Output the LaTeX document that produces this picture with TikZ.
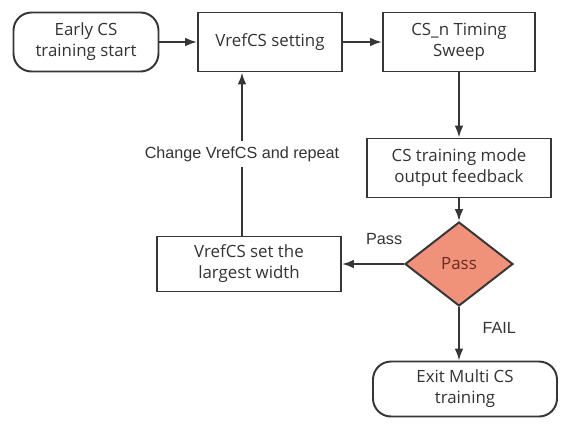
\documentclass[tikz,border=0pt]{standalone}
\usepackage{fontspec}
\setmainfont{Open Sans}
\newfontfamily\labelfont{Liberation Sans}
\usepackage{tikz}
\usetikzlibrary{arrows.meta}
\usetikzlibrary{positioning}
\usetikzlibrary{shapes.geometric}
\definecolor{linegray}{HTML}{363636}
\definecolor{textgray}{HTML}{333333}
\definecolor{salmon}{HTML}{F0917A}
\definecolor{passred}{HTML}{6B2A20}
\tikzset{>={Latex[length=3mm, width=2.2mm]}}
\tikzset{
    flowbox/.style={draw=linegray, line width=1.4pt, align=center, text=textgray,
        font=\fontsize{12}{15}\selectfont, inner sep=0pt},
    endbox/.style={flowbox, rounded corners=0.45cm},
    decision/.style={diamond, draw=linegray, line width=1.4pt, fill=salmon, text=passred,
        font=\fontsize{12}{15}\selectfont, inner sep=0pt, aspect=1.29},
    flowlabel/.style={text=textgray, font=\labelfont\fontsize{11.5}{14}\selectfont},
}

\begin{document}
\begin{tikzpicture}[line width=1.4pt, color=linegray]
	\useasboundingbox (0,0) rectangle (14.125,-10.725);
	\node[endbox, minimum width=3.625cm, minimum height=1.475cm] (start) at (2.15,-1.05) {Early CS\\training start};
	\node[flowbox, minimum width=3.6cm, minimum height=1.475cm] (vref) at (6.75,-1.05) {VrefCS setting};
	\node[flowbox, minimum width=3.8cm, minimum height=1.475cm] (sweep) at (11.475,-1.05) {CS\_n Timing\\Sweep};
	\node[flowbox, minimum width=4.6cm, minimum height=1.475cm] (mode) at (11.475,-4.2) {CS training mode\\output feedback};
	\node[decision, minimum width=2.7cm, minimum height=2.1cm] (check) at (11.475,-6.6) {Pass};
	\node[flowbox, minimum width=4.6cm, minimum height=1.375cm] (widest) at (6.225,-6.6) {VrefCS set the\\largest width};
	\node[endbox, minimum width=4.6cm, minimum height=1.375cm] (exit) at (11.625,-9.725) {Exit Multi CS\\training};
	\coordinate (loop) at (6.05,0);
	\draw[->] (start) -- (vref);
	\draw[->] (vref) -- (sweep);
	\draw[->] (sweep) -- (sweep |- mode.north);
	\draw[->] (mode) -- (check);
	\draw[->] (check) -- node[flowlabel, pos=.32, above=3.5mm] {Pass} (widest);
	\draw[->] (check) -- node[flowlabel, pos=.4, right=4.5mm] {FAIL} (check |- exit.north);
	\draw[->] (widest.north -| loop) -- node[flowlabel, fill=white, inner ysep=4pt] {Change VrefCS and repeat} (vref.south -| loop);
\end{tikzpicture}
\end{document}
